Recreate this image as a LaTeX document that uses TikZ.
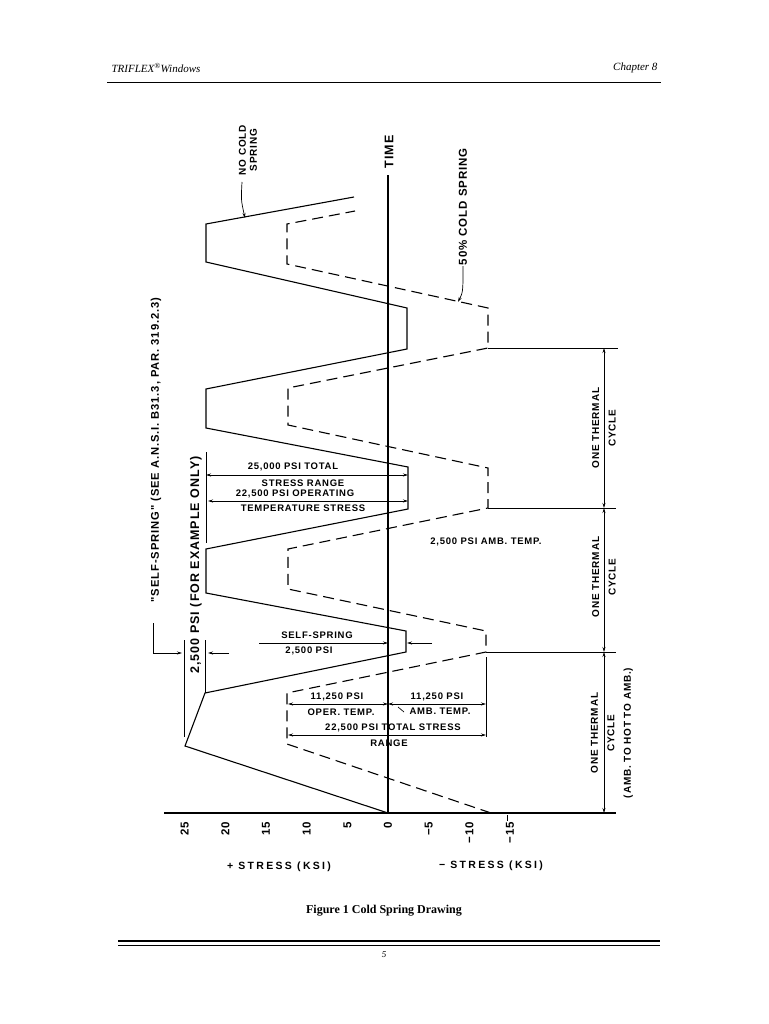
\documentclass[tikz,border=0pt]{standalone}
\usepackage{fontspec}
\setmainfont{Liberation Serif}
\newfontfamily\lbl[LetterSpace=8]{Liberation Sans}
\newfontfamily\lblw[LetterSpace=22]{Liberation Sans}
\usetikzlibrary{arrows.meta}
\begin{document}
\begin{tikzpicture}[x=1pt,y=-1pt,
  curve/.style={line width=1.1pt},
  dcurve/.style={line width=1.1pt,dash pattern=on 11pt off 6pt},
  dim/.style={line width=0.7pt},
  dimarr/.style={line width=0.7pt,{Stealth[length=5pt,width=3pt]}-{Stealth[length=5pt,width=3pt]}},
  arr/.style={line width=0.7pt,-{Stealth[length=5pt,width=3pt]}},
  lab/.style={font=\lbl\bfseries\fontsize{9.5}{11}\selectfont,inner sep=0.5pt},
  rlab/.style={lab,rotate=90,align=center}]
\useasboundingbox (0,0) rectangle (768,1024);
% header / footer
\node[font=\itshape\fontsize{11}{13}\selectfont,anchor=west] (hl) at (108,68) {TRIFLEX\textsuperscript{\textregistered}Windows};
\node[font=\itshape\fontsize{11}{13}\selectfont,anchor=east] (hr) at (661,68) {Chapter 8};
\draw[line width=0.8pt] (107,82) -- (661,82);
\node[font=\bfseries\fontsize{12}{14}\selectfont] (cap) at (384,911) {Figure 1 Cold Spring Drawing};
\draw[line width=1.2pt] (118,941) -- (660,941);
\draw[line width=0.6pt] (118,945) -- (660,945);
\node[font=\itshape\fontsize{9}{10}\selectfont] (pg) at (384,955) {5};
% axes
\coordinate (ax0) at (164,813); \coordinate (ax1) at (616,813);
\draw[line width=1.4pt] (ax0) -- (ax1);
\coordinate (t0) at (388,813); \coordinate (t1) at (388,175);
\draw[line width=1.1pt] (t0) -- (t1);
\node[rlab,font=\lbl\bfseries\fontsize{12.5}{13}\selectfont,anchor=west] (time) at (389,169) {TIME};
% tick labels
\foreach \v/\t in {25/25,20/20,15/15,10/10,5/5,0/0,-5/−5,-10/−10,-15/−15}{
  \node[lab,rotate=90,font=\lbl\bfseries\fontsize{11.5}{12}\selectfont,anchor=east] at ({388-8.13*\v},821) {\t};}
\draw[line width=0.7pt] (507,815) -- (507,821);
\node[lab,font=\lblw\bfseries\fontsize{10.5}{12}\selectfont] (sp) at (279,867) {+ STRESS (KSI)};
\node[lab,font=\lblw\bfseries\fontsize{10.5}{12}\selectfont] (sm) at (491,866) {− STRESS (KSI)};
% no cold spring
\draw[curve] (388,813) -- (185,746) -- (205,693) -- (406,652) -- (406,631) -- (206,593) -- (206,549)
  -- (408,509) -- (408,467) -- (206,428) -- (206,389) -- (407,349) -- (407,308) -- (206,262) -- (206,224) -- (354,197);
% 50% cold spring
\draw[dcurve] (491,813) -- (287,744) -- (287,693) -- (486,652) -- (486,631) -- (288,589) -- (288,549)
  -- (488,508) -- (488,468) -- (288,425) -- (288,388) -- (488,348) -- (488,308) -- (287,264) -- (287,224) -- (355,211);
% curve labels
\node[rlab,font=\lbl\bfseries\fontsize{10}{11}\selectfont] (ncs) at (248,150) {NO COLD\\SPRING};
\coordinate (ncsA) at (245,218);
\draw[arr] (242,182) .. controls (241,200) .. (ncsA);
\node[rlab,font=\lbl\bfseries\fontsize{11.5}{12}\selectfont,anchor=west] (fcs) at (463,266) {50\% COLD SPRING};
\coordinate (fcsA) at (458,302);
\draw[arr] (fcs.west) .. controls (463,292) .. (fcsA);
% thermal cycles
\draw[dim] (486,652) -- (616,652);
\draw[dim] (488,508) -- (616,508);
\draw[dim] (488,348) -- (618,348);
\draw[dimarr] (604,813) -- (604,652);
\draw[dimarr] (604,652) -- (604,508);
\draw[dimarr] (604,508) -- (604,348);
\node[rlab,font=\lbl\bfseries\fontsize{10}{16.5}\selectfont] (c1) at (612,733) {ONE THERMAL\\CYCLE\\(AMB. TO HOT TO AMB.)};
\node[rlab,font=\lbl\bfseries\fontsize{10}{16.5}\selectfont] (c2) at (604,577) {ONE THERMAL\\CYCLE};
\node[rlab,font=\lbl\bfseries\fontsize{10}{16.5}\selectfont] (c3) at (604,428) {ONE THERMAL\\CYCLE};
% left annotations
\node[rlab,font=\lbl\bfseries\fontsize{11.2}{12}\selectfont] (ss) at (156,450) {"SELF-SPRING" (SEE A.N.S.I. B31.3, PAR. 319.2.3)};
\node[rlab,font=\lbl\bfseries\fontsize{12.5}{13}\selectfont] (fe) at (196,565) {2,500 PSI (FOR EXAMPLE ONLY)};
\coordinate (ssa) at (153,623); \coordinate (ssb) at (153,653); \coordinate (ssc) at (182,653);
\draw[arr] (ssa) -- (ssb) -- (ssc);
\draw[dim] (184,640) -- (184,737);
\coordinate (fea) at (229,653); \coordinate (feb) at (208,653);
\draw[arr] (fea) -- (feb);
\draw[dim] (206,452) -- (206,543);
\draw[dim] (205,640) -- (205,693);
% 25,000 dims
\draw[dimarr] (206,475) -- (408,475);
\node[lab] (d1a) at (293,467) {25,000 PSI TOTAL};
\node[lab] (d1b) at (303,483) {STRESS RANGE};
\draw[dimarr] (208,501) -- (408,501);
\node[lab] (d2a) at (295,494) {22,500 PSI OPERATING};
\node[lab] (d2b) at (303,508) {TEMPERATURE STRESS};
\node[lab] (amb) at (486,542) {2,500 PSI AMB. TEMP.};
% self-spring
\node[lab] (sfa) at (317,635) {SELF-SPRING};
\node[lab] (sfb) at (309,651) {2,500 PSI};
\coordinate (s1) at (259,643); \coordinate (s2) at (432,643);
\draw[arr] (s1) -- (388,643);
\draw[arr] (s2) -- (407,643);
% lower dims
\draw[dim] (486,657) -- (486,737);
\draw[dimarr] (288,704) -- (388,704);
\draw[dimarr] (388,704) -- (486,704);
\node[lab] (l1) at (337,697) {11,250 PSI};
\node[lab] (l2) at (341,712) {OPER. TEMP.};
\node[lab] (r1) at (437,697) {11,250 PSI};
\node[lab] (r2) at (440,711) {AMB. TEMP.};
\draw[dim] (398,707) -- (404,712);
\draw[dimarr] (288,735) -- (486,735);
\node[lab] (t1l) at (393,728) {22,500 PSI TOTAL STRESS};
\node[lab] (t2l) at (389,743) {RANGE};
\end{tikzpicture}
\end{document}
